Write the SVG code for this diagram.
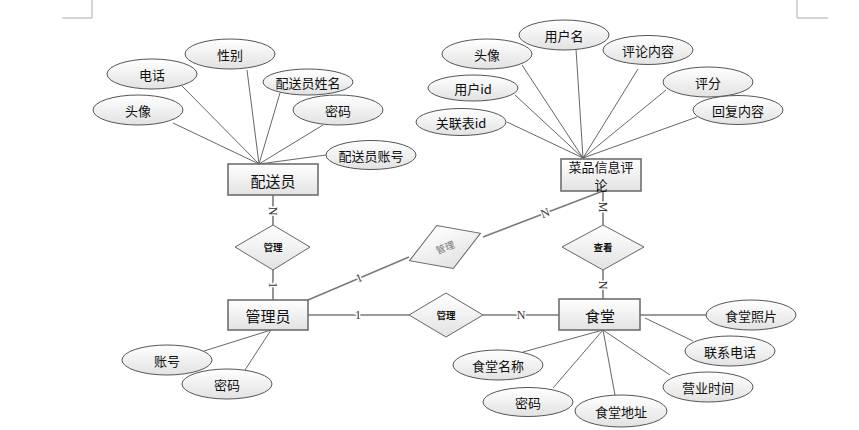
<svg xmlns="http://www.w3.org/2000/svg" width="859" height="430" viewBox="0 0 859 430">
<defs>
<linearGradient id="g" x1="0" y1="0" x2="0" y2="1">
<stop offset="0" stop-color="#ffffff"/>
<stop offset="1" stop-color="#e2e2e2"/>
</linearGradient>
<style>
.at ellipse{fill:url(#g);stroke:#555;stroke-width:1}
.en rect{fill:url(#g);stroke:#6e6e6e;stroke-width:1.6}
.rl polygon{fill:url(#g);stroke:#666;stroke-width:1}
text{font-family:"Noto Sans CJK SC","Liberation Sans",sans-serif;fill:#111;text-anchor:middle;dominant-baseline:central}
.at text{font-size:13px}
.en text{font-size:15px}
.en text.sm{font-size:13px}
.rl text{font-size:9.5px;font-weight:bold}
.al line{stroke:#555;stroke-width:0.9}
.rline{stroke:#7a7a7a;stroke-width:1.6;fill:none}
.lb{font-family:"Liberation Serif",serif;font-size:12px;fill:#333;stroke:#fff;stroke-width:3;paint-order:stroke}
.crn{stroke:#aaa;stroke-width:1;fill:none}
</style>
</defs>
<rect width="859" height="430" fill="#fff"/>
<g id="corners">
<path class="crn" d="M92 0V18H62M797 0V18H828"/>
</g>
<g id="connectors">
<g class="al">
<line x1="259" y1="164" x2="182" y2="86"/>
<line x1="259" y1="164" x2="247" y2="70"/>
<line x1="259" y1="164" x2="280" y2="93"/>
<line x1="259" y1="164" x2="173" y2="123"/>
<line x1="259" y1="164" x2="323" y2="125"/>
<line x1="259" y1="164" x2="326" y2="155"/>
<line x1="583" y1="158" x2="576" y2="49"/>
<line x1="583" y1="158" x2="522" y2="65"/>
<line x1="583" y1="158" x2="638" y2="69"/>
<line x1="583" y1="158" x2="515" y2="95"/>
<line x1="583" y1="158" x2="666" y2="90"/>
<line x1="583" y1="158" x2="507" y2="122"/>
<line x1="583" y1="158" x2="697" y2="117"/>
<line x1="271" y1="330" x2="204" y2="351"/>
<line x1="271" y1="330" x2="245" y2="370"/>
<line x1="603" y1="330" x2="523" y2="352"/>
<line x1="603" y1="330" x2="553" y2="388"/>
<line x1="603" y1="330" x2="615" y2="395"/>
<line x1="603" y1="330" x2="670" y2="375"/>
<line x1="645" y1="318" x2="693" y2="341"/>
</g>
<line class="rline" x1="640" y1="315" x2="706" y2="315"/>
<line class="rline" x1="273" y1="195" x2="273" y2="225"/>
<line class="rline" x1="273" y1="270" x2="273" y2="300"/>
<line class="rline" x1="603" y1="191" x2="603" y2="225"/>
<line class="rline" x1="603" y1="270" x2="603" y2="299"/>
<line class="rline" x1="308" y1="315" x2="409" y2="315"/>
<line class="rline" x1="483" y1="315" x2="559" y2="315"/>
<line class="rline" x1="308" y1="300" x2="409" y2="257"/>
<line class="rline" x1="483" y1="237" x2="603" y2="191"/>
<text class="lb" transform="translate(273,211) rotate(90)">N</text>
<text class="lb" transform="translate(273,285) rotate(90)">1</text>
<text class="lb" transform="translate(603,207) rotate(90)">M</text>
<text class="lb" transform="translate(603,285) rotate(90)">N</text>
<text class="lb" x="358" y="315">1</text>
<text class="lb" x="521" y="315">N</text>
<text class="lb" transform="translate(359,278) rotate(-23)">1</text>
<text class="lb" transform="translate(545,213) rotate(-21)">N</text>
</g>
<g id="peisongyuan" class="en"><rect x="228" y="164" width="90" height="31"/><text x="273" y="180">配送员</text></g>
<g id="caipin" class="en"><rect x="561" y="159" width="80" height="32"/><text class="sm" x="601" y="166">菜品信息评</text><text class="sm" x="601" y="184">论</text></g>
<g id="guanliyuan" class="en"><rect x="228" y="300" width="80" height="30"/><text x="268" y="315">管理员</text></g>
<g id="shitang" class="en"><rect x="559" y="299" width="81" height="31"/><text x="600" y="315">食堂</text></g>
<g id="rel1" class="rl"><polygon points="273,225 310,247 273,270 235,247"/><text x="273" y="247">管理</text></g>
<g id="rel2" class="rl"><g transform="translate(445,247) rotate(-21)"><polygon points="-38,0 0,-23 38,0 0,23"/><text x="0" y="0" style="fill:#777;font-weight:normal">管理</text></g></g>
<g id="rel3" class="rl"><polygon points="603,225 644,247 603,270 562,247"/><text x="603" y="247">查看</text></g>
<g id="rel4" class="rl"><polygon points="446,293 483,315 446,337 409,315"/><text x="446" y="315">管理</text></g>
<g id="a1" class="at"><ellipse cx="152" cy="74" rx="45" ry="15"/><text x="152" y="74">电话</text></g>
<g id="a2" class="at"><ellipse cx="230" cy="54" rx="45" ry="15"/><text x="230" y="54">性别</text></g>
<g id="a3" class="at"><ellipse cx="308" cy="82" rx="45" ry="13"/><text x="308" y="82">配送员姓名</text></g>
<g id="a4" class="at"><ellipse cx="138" cy="110" rx="45" ry="15"/><text x="138" y="110">头像</text></g>
<g id="a5" class="at"><ellipse cx="338" cy="110" rx="45" ry="15"/><text x="338" y="110">密码</text></g>
<g id="a6" class="at"><ellipse cx="371" cy="155" rx="45" ry="14.5"/><text x="371" y="155">配送员账号</text></g>
<g id="b1" class="at"><ellipse cx="564" cy="35" rx="45" ry="15"/><text x="564" y="35">用户名</text></g>
<g id="b2" class="at"><ellipse cx="487" cy="54" rx="45" ry="15"/><text x="487" y="54">头像</text></g>
<g id="b3" class="at"><ellipse cx="648" cy="50" rx="45" ry="14.5"/><text x="648" y="50">评论内容</text></g>
<g id="b4" class="at"><ellipse cx="473" cy="88" rx="45" ry="13"/><text x="473" y="88">用户id</text></g>
<g id="b5" class="at"><ellipse cx="708" cy="82" rx="45" ry="15"/><text x="708" y="82">评分</text></g>
<g id="b6" class="at"><ellipse cx="461" cy="122" rx="45" ry="13.5"/><text x="461" y="122">关联表id</text></g>
<g id="b7" class="at"><ellipse cx="738" cy="110" rx="45" ry="14.5"/><text x="738" y="110">回复内容</text></g>
<g id="c1" class="at"><ellipse cx="167" cy="360" rx="45" ry="15"/><text x="167" y="360">账号</text></g>
<g id="c2" class="at"><ellipse cx="227" cy="384" rx="45" ry="15"/><text x="227" y="384">密码</text></g>
<g id="d1" class="at"><ellipse cx="751" cy="315" rx="45" ry="15"/><text x="751" y="315">食堂照片</text></g>
<g id="d2" class="at"><ellipse cx="730" cy="351" rx="45" ry="15"/><text x="730" y="351">联系电话</text></g>
<g id="d3" class="at"><ellipse cx="708" cy="387" rx="45" ry="15"/><text x="708" y="387">营业时间</text></g>
<g id="d4" class="at"><ellipse cx="498" cy="365" rx="45" ry="15"/><text x="498" y="365">食堂名称</text></g>
<g id="d5" class="at"><ellipse cx="528" cy="402" rx="45" ry="14.5"/><text x="528" y="402">密码</text></g>
<g id="d6" class="at"><ellipse cx="621" cy="411" rx="46" ry="16"/><text x="621" y="411">食堂地址</text></g>
</svg>
